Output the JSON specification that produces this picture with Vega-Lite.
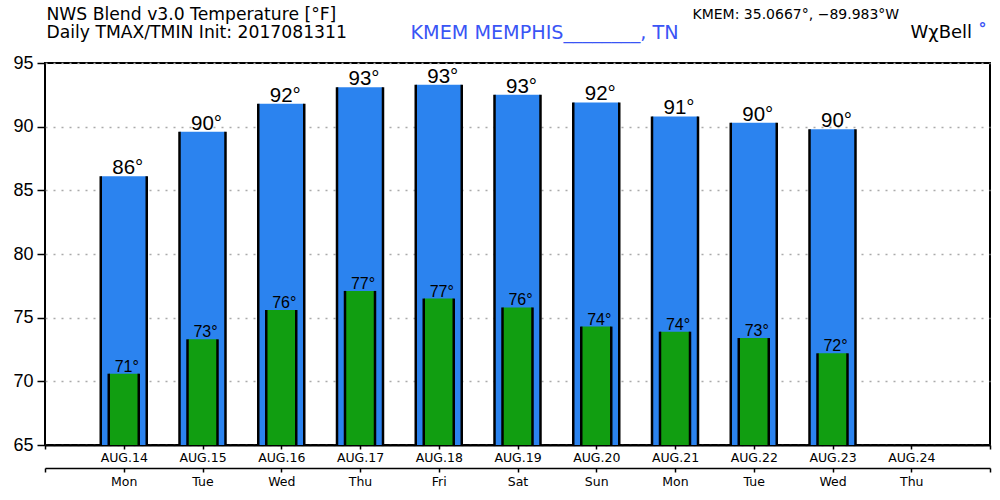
{
  "$schema": "https://vega.github.io/schema/vega-lite/v6.json",
  "autosize": {"type": "none"},
  "width": 945,
  "height": 382,
  "padding": {"left": 45, "top": 63, "right": 10, "bottom": 55},
  "background": "white",
  "config": {
    "view": {"stroke": "black", "strokeWidth": 2},
    "axis": {
      "labelColor": "black", "tickColor": "black", "domainColor": "black",
      "titleColor": "black", "labelFont": "Liberation Sans", "titleFont": "DejaVu Sans",
      "titleFontWeight": "normal"
    },
    "axisX": {"grid": false},
    "axisY": {"gridColor": "#aaaaaa", "gridDash": [2, 6], "gridWidth": 1.5}
  },
  "data": {
    "values": [
      {"day": 14, "hi": 86.1, "lo": 70.6, "hiLabel": "86°", "loLabel": "71°"},
      {"day": 15, "hi": 89.6, "lo": 73.3, "hiLabel": "90°", "loLabel": "73°"},
      {"day": 16, "hi": 91.8, "lo": 75.6, "hiLabel": "92°", "loLabel": "76°"},
      {"day": 17, "hi": 93.1, "lo": 77.1, "hiLabel": "93°", "loLabel": "77°"},
      {"day": 18, "hi": 93.3, "lo": 76.5, "hiLabel": "93°", "loLabel": "77°"},
      {"day": 19, "hi": 92.5, "lo": 75.8, "hiLabel": "93°", "loLabel": "76°"},
      {"day": 20, "hi": 91.9, "lo": 74.3, "hiLabel": "92°", "loLabel": "74°"},
      {"day": 21, "hi": 90.8, "lo": 73.9, "hiLabel": "91°", "loLabel": "74°"},
      {"day": 22, "hi": 90.3, "lo": 73.4, "hiLabel": "90°", "loLabel": "73°"},
      {"day": 23, "hi": 89.8, "lo": 72.2, "hiLabel": "90°", "loLabel": "72°"}
    ]
  },
  "resolve": {"axis": {"x": "independent"}},
  "layer": [
    {
      "mark": {"type": "bar", "width": 46, "color": "#2b83ef"},
      "encoding": {
        "x": {"field": "day", "type": "quantitative", "scale": {"domain": [13, 25], "nice": false, "zero": false, "padding": 0},
          "axis": {"title": null, "values": [13, 14, 15, 16, 17, 18, 19, 20, 21, 22, 23, 24, 25],
            "labelExpr": "datum.value >= 14 && datum.value <= 24 ? 'AUG.' + datum.value : ''",
            "tickSize": 4, "tickWidth": 1.5, "domainWidth": 2, "labelPadding": 2,
            "labelFont": "DejaVu Sans", "labelFontSize": 12.5}},
        "y": {"field": "hi", "type": "quantitative", "scale": {"domain": [65, 95], "zero": false, "nice": false},
          "axis": {"title": null, "values": [65, 70, 75, 80, 85, 90, 95], "labelFontSize": 18,
            "tickSize": 8, "tickWidth": 1.5, "labelPadding": 4, "domain": false}},
        "y2": {"datum": 65}
      }
    },
    {
      "mark": {"type": "rule", "xOffset": -23, "strokeWidth": 2.5, "color": "black"},
      "encoding": {
        "x": {"field": "day", "type": "quantitative",
          "axis": {"title": null, "orient": "bottom", "offset": 23, "values": [13, 14, 15, 16, 17, 18, 19, 20, 21, 22, 23, 24, 25],
            "labelExpr": "datum.value >= 14 && datum.value <= 24 ? ['Mon','Tue','Wed','Thu','Fri','Sat','Sun'][datum.value % 7] : ''",
            "tickSize": 4, "tickWidth": 1.5, "domainWidth": 1.5, "labelPadding": 3,
            "labelFont": "DejaVu Sans", "labelFontSize": 12.5}},
        "y": {"field": "hi", "type": "quantitative",
          "axis": {"title": null, "values": [65, 70, 75, 80, 85, 90, 95], "labelFontSize": 18,
            "tickSize": 8, "tickWidth": 1.5, "labelPadding": 4, "domain": false}},
        "y2": {"datum": 65}
      }
    },
    {
      "mark": {"type": "rule", "xOffset": 23, "strokeWidth": 2.5, "color": "black"},
      "encoding": {
        "x": {"field": "day", "type": "quantitative",
          "axis": {"orient": "top", "labels": false, "ticks": false, "domain": false,
            "title": ["NWS Blend v3.0 Temperature [°F]", "Daily TMAX/TMIN Init: 2017081311"],
            "titleX": 1, "titleY": -44, "titleAlign": "left", "titleAnchor": null, "titleBaseline": "alphabetic",
            "titleFontSize": 17.2, "titleLineHeight": 18}},
        "y": {"field": "hi", "type": "quantitative",
          "axis": {"title": null, "values": [65, 70, 75, 80, 85, 90, 95], "labelFontSize": 18,
            "tickSize": 8, "tickWidth": 1.5, "labelPadding": 4, "domain": false}},
        "y2": {"datum": 65}
      }
    },
    {
      "mark": {"type": "bar", "width": 30, "color": "#119e11"},
      "encoding": {
        "x": {"field": "day", "type": "quantitative",
          "axis": {"orient": "top", "labels": false, "ticks": false, "domain": false,
            "title": "KMEM MEMPHIS________, TN",
            "titleX": 365, "titleY": -25, "titleAlign": "left", "titleAnchor": null, "titleBaseline": "alphabetic",
            "titleFontSize": 19.2, "titleColor": "#3a55f5"}},
        "y": {"field": "lo", "type": "quantitative",
          "axis": {"title": null, "values": [65, 70, 75, 80, 85, 90, 95], "labelFontSize": 18,
            "tickSize": 8, "tickWidth": 1.5, "labelPadding": 4, "domain": false}},
        "y2": {"datum": 65}
      }
    },
    {
      "mark": {"type": "rule", "xOffset": -15, "strokeWidth": 2.5, "color": "black"},
      "encoding": {
        "x": {"field": "day", "type": "quantitative",
          "axis": {"orient": "top", "labels": false, "ticks": false, "domain": false,
            "title": "KMEM: 35.0667°, −89.983°W",
            "titleX": 647, "titleY": -45, "titleAlign": "left", "titleAnchor": null, "titleBaseline": "alphabetic",
            "titleFontSize": 14}},
        "y": {"field": "lo", "type": "quantitative",
          "axis": {"title": null, "values": [65, 70, 75, 80, 85, 90, 95], "labelFontSize": 18,
            "tickSize": 8, "tickWidth": 1.5, "labelPadding": 4, "domain": false}},
        "y2": {"datum": 65}
      }
    },
    {
      "mark": {"type": "rule", "xOffset": 15, "strokeWidth": 2.5, "color": "black"},
      "encoding": {
        "x": {"field": "day", "type": "quantitative",
          "axis": {"orient": "top", "labels": false, "ticks": false, "domain": false,
            "title": "WχBell",
            "titleX": 865, "titleY": -26, "titleAlign": "left", "titleAnchor": null, "titleBaseline": "alphabetic",
            "titleFontSize": 18}},
        "y": {"field": "lo", "type": "quantitative",
          "axis": {"title": null, "values": [65, 70, 75, 80, 85, 90, 95], "labelFontSize": 18,
            "tickSize": 8, "tickWidth": 1.5, "labelPadding": 4, "domain": false}},
        "y2": {"datum": 65}
      }
    },
    {
      "mark": {"type": "text", "fontSize": 20.5, "font": "Liberation Sans", "baseline": "alphabetic", "dy": -2, "dx": 4, "color": "black"},
      "encoding": {
        "x": {"field": "day", "type": "quantitative",
          "axis": {"orient": "top", "labels": false, "ticks": false, "domain": false,
            "title": "°",
            "titleX": 933, "titleY": -30, "titleAlign": "left", "titleAnchor": null, "titleBaseline": "alphabetic",
            "titleFontSize": 16, "titleFontWeight": "bold", "titleColor": "#3a55f5"}},
        "y": {"field": "hi", "type": "quantitative",
          "axis": {"title": null, "values": [65, 70, 75, 80, 85, 90, 95], "labelFontSize": 18,
            "tickSize": 8, "tickWidth": 1.5, "labelPadding": 4, "domain": false}},
        "text": {"field": "hiLabel"}
      }
    },
    {
      "mark": {"type": "text", "fontSize": 16, "font": "Liberation Sans", "baseline": "alphabetic", "dy": -2, "dx": 3, "color": "black"},
      "encoding": {
        "x": {"field": "day", "type": "quantitative", "axis": null},
        "y": {"field": "lo", "type": "quantitative",
          "axis": {"title": null, "values": [65, 70, 75, 80, 85, 90, 95], "labelFontSize": 18,
            "tickSize": 8, "tickWidth": 1.5, "labelPadding": 4, "domain": false}},
        "text": {"field": "loLabel"}
      }
    }
  ]
}
